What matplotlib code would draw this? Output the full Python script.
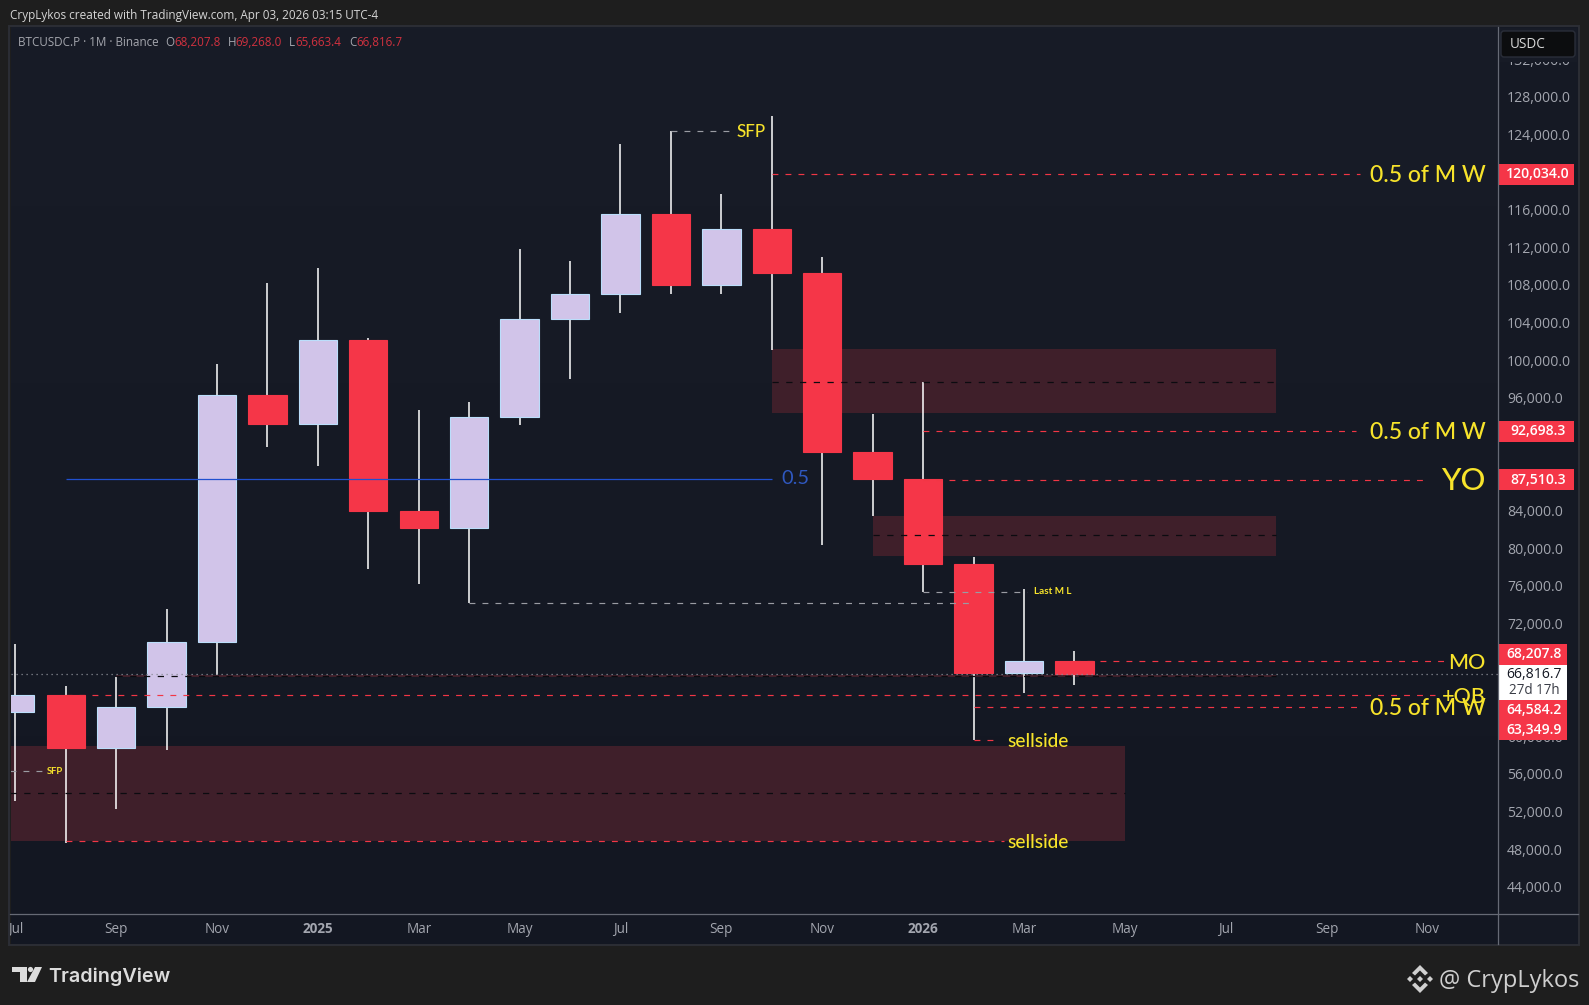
import numpy as np
import matplotlib
matplotlib.use("Agg")
import matplotlib.pyplot as plt
from matplotlib.patches import Rectangle, Polygon, Circle, FancyBboxPatch

# monthly candles, Jul 2024 -> Apr 2026 (prices in thousands)
opens = [62.8, 64.6, 59.0, 63.3, 70.2, 96.5, 93.4, 102.4, 84.2, 82.4, 94.2,
         104.6, 107.2, 115.7, 108.2, 114.1, 109.5, 90.4, 87.55, 78.5, 66.95, 68.2078]
highs = [70.0, 65.6, 66.5, 73.7, 99.8, 108.4, 110.0, 102.6, 94.9, 95.8, 112.0,
         110.7, 123.2, 124.6, 117.9, 126.2, 111.2, 94.5, 97.9, 79.3, 75.9, 69.268]
lows = [53.3, 48.9, 52.5, 58.8, 66.7, 91.0, 88.9, 78.0, 76.4, 74.4, 93.3,
        98.2, 105.2, 107.2, 107.2, 101.3, 80.5, 83.6, 75.55, 59.85, 64.8, 65.6634]
closes = [64.6, 59.0, 63.3, 70.2, 96.5, 93.4, 102.4, 84.2, 82.4, 94.2, 104.6,
          107.2, 115.7, 108.2, 114.1, 109.5, 90.4, 87.55, 78.5, 66.95, 68.2, 66.8167]

month_pos = [0, 2, 4, 6, 8, 10, 12, 14, 16, 18, 20, 22, 24, 26, 28]
month_labels = ["Jul", "Sep", "Nov", "2025", "Mar", "May", "Jul", "Sep", "Nov",
                "2026", "Mar", "May", "Jul", "Sep", "Nov"]
price_ticks = [44, 48, 52, 56, 60, 72, 76, 80, 84, 96, 100, 104, 108, 112, 116, 124, 128, 132]

# supply zones: x start, x end, top, bottom, mid
zone_x0 = [15, 17, -0.1, 2]
zone_x1 = [25, 25, 22, 25]
zone_top = [101.35, 83.66, 59.2, 66.68]
zone_bot = [94.56, 79.35, 49.1, 66.5]
zone_mid = [97.9, 81.6, 54.2, 66.6]

# red levels: price, start, end
red_price = [120.034, 92.6983, 87.5103, 68.2078, 64.5842, 63.3499, 59.85, 49.1]
red_x0 = [15, 18, 18, 21, 1, 19, 19, 1]
red_x1 = [26.66, 26.58, 28.03, 28.33, 28.15, 26.7, 19.5, 19.6]

gray_price = [124.6, 75.55, 74.41, 56.5]
gray_x0 = [13, 18, 9, -0.1]
gray_x1 = [14.17, 20.06, 18.91, 0.56]

right_notes = ["0.5 of M W", "0.5 of M W", "YO", "MO", "+QB", "0.5 of M W"]
right_note_price = [120.034, 92.6983, 87.5103, 68.2078, 64.5842, 63.3499]
right_note_px = [23, 23, 31, 21.5, 21.5, 23]

tag_labels = ["120,034.0", "92,698.3", "87,510.3"]
tag_prices = [120.034, 92.6983, 87.5103]

RED = "#f53648"
YELLOW = "#f7e32b"
AXIS_TXT = "#a3a6af"
DASH = (0, (5, 6))
NOTE_FONT = "Lato"
UI_FONT = "Open Sans"
W, H = 1589, 1005


def pt(px):
    return px * 0.72


fig = plt.figure(figsize=(W / 100, H / 100), dpi=100, facecolor="#1e1e1e")

# pane in pixel terms: x 10.5-1497.5, y 27.5-913.5
ax = fig.add_axes([10.5 / W, 1 - 913.5 / H, 1487 / W, 886 / H])
ax.set_facecolor("#131722")
grad = np.linspace(0, 1, 256).reshape(-1, 1)
c_top, c_bot = np.array([0x18, 0x1c, 0x27]), np.array([0x13, 0x17, 0x22])
img = (c_top + (c_bot - c_top) * grad[:, :, None]) / 255
ax.imshow(img, extent=(0, 1, 0, 1), transform=ax.transAxes, aspect="auto", zorder=0)

for x0, x1, t, b, m in zip(zone_x0, zone_x1, zone_top, zone_bot, zone_mid):
    ax.add_patch(Rectangle((x0, b), x1 - x0, t - b, fc="#3f1f2a", ec="none", zorder=1))

x = np.arange(len(opens))
ax.vlines(x, lows, highs, color="white", lw=1.1, zorder=3, snap=True)
for i in x:
    up = closes[i] >= opens[i]
    ax.bar(i, abs(closes[i] - opens[i]), bottom=min(opens[i], closes[i]), width=0.76,
           color="#d1c4e9" if up else RED, edgecolor="#bbdefb" if up else RED,
           linewidth=0.8, zorder=4)

for x0, x1, m in zip(zone_x0, zone_x1, zone_mid):
    ax.hlines(m, x0, x1, color="#0b0b10", lw=0.9, linestyle=DASH, zorder=5, snap=True)
for p, x0, x1 in zip(red_price, red_x0, red_x1):
    ax.hlines(p, x0, x1, color="#f23645", lw=0.85, linestyle=DASH, zorder=5, snap=True)
for p, x0, x1 in zip(gray_price, gray_x0, gray_x1):
    ax.hlines(p, x0, x1, color="#9a9ca3", lw=0.85, linestyle=DASH, zorder=5, snap=True)

ax.hlines(87.6, 1, 15, color="#2050d0", lw=0.9, zorder=5, snap=True)
ax.text(15.2, 87.6, "0.5", color="#2f58c0", fontsize=pt(20), family=NOTE_FONT, va="center", zorder=6)
ax.axhline(closes[-1], color="#8a8d96", lw=0.9, linestyle=(0, (1, 3)), zorder=5)

for txt, p, s in zip(right_notes, right_note_price, right_note_px):
    ax.text(29.16, p - 0.2, txt, color=YELLOW, fontsize=pt(s), family=NOTE_FONT, weight="medium",
            ha="right", va="center", zorder=6)
ax.text(14.31, 124.5, "SFP", color=YELLOW, fontsize=pt(17), family=NOTE_FONT, weight="medium", va="center", zorder=6)
ax.text(20.2, 75.55, "Last M L", color=YELLOW, fontsize=pt(10), family=NOTE_FONT, weight="bold", va="center", zorder=6)
ax.text(0.63, 56.45, "SFP", color=YELLOW, fontsize=pt(9.5), family=NOTE_FONT, weight="bold", va="center", zorder=6)
ax.text(19.68, 59.7, "sellside", color=YELLOW, fontsize=pt(19), family=NOTE_FONT, weight="medium", va="center", zorder=6)
ax.text(19.68, 48.95, "sellside", color=YELLOW, fontsize=pt(19), family=NOTE_FONT, weight="medium", va="center", zorder=6)

ax.set_xlim(-0.095, 29.39)
ax.set_ylim(41.36, 135.58)
ax.yaxis.tick_right()
ax.set_yticks(price_ticks)
ax.set_yticklabels([f"{v * 1000:,.1f}" for v in price_ticks], family=UI_FONT, fontsize=pt(14), color=AXIS_TXT, va="center")
ax.set_xticks(month_pos)
ax.set_xticklabels(month_labels, family=UI_FONT, fontsize=pt(13.5), color=AXIS_TXT)
for lab in ax.get_xticklabels():
    if lab.get_text().startswith("20"):
        lab.set_weight("bold")
ax.tick_params(axis="both", length=0)
ax.tick_params(axis="y", pad=6.8)
ax.tick_params(axis="x", pad=6)
for s in ax.spines.values():
    s.set_visible(False)

# overlay in pixel coordinates for the chrome round the pane
ov = fig.add_axes([0, 0, 1, 1], zorder=5)
ov.set_xlim(0, W)
ov.set_ylim(H, 0)
ov.axis("off")
fig.add_artist(Rectangle((10.5 / W, 1 - 944 / H), 1567.5 / W, 30.5 / H, fc="#131722", ec="none", zorder=-1))
fig.add_artist(Rectangle((1497.5 / W, 1 - 944 / H), 80.5 / W, 916.5 / H, fc="#151924", ec="none", zorder=-1))

ov.add_patch(Rectangle((0, 26), 9.5, 919, fc="#1e1e1e", ec="none"))
ov.add_patch(Rectangle((9, 26), 1570, 919, fc="none", ec="#2c2e35", lw=1.4))
ov.plot([1497.5, 1497.5], [27, 944], color="#666a75", lw=0.9)
ov.plot([10, 1578], [913.5, 913.5], color="#666a75", lw=0.9)

ov.text(10, 15, "CrypLykos created with TradingView.com, Apr 03, 2026 03:15 UTC-4",
        color="#d6d6d6", fontsize=pt(11.75), family=UI_FONT, va="center")
ov.text(18, 42, "BTCUSDC.P · 1M · Binance", color="#a4a6ad", fontsize=pt(11.6), family=UI_FONT, va="center")
for lx, vx, name, val in zip([165.7, 227.7, 289.3, 349], [174.3, 235.7, 295.7, 356.7], ["O", "H", "L", "C"],
                             ["68,207.8", "69,268.0", "65,663.4", "66,816.7"]):
    ov.text(lx, 42, name, color="#a4a6ad", fontsize=pt(11.6), family=UI_FONT, va="center")
    ov.text(vx, 42, val, color="#d0313f", fontsize=pt(11.6), family=UI_FONT, va="center")

# USDC button, with the strip of pane that hides the tick under it
ov.add_patch(Rectangle((1498.2, 28), 79, 33.5, fc="#171b26", ec="none"))
ov.add_patch(FancyBboxPatch((1503, 33), 70, 22, boxstyle="round,pad=2,rounding_size=3", fc="#0c0d0f", ec="#2a2e39", lw=1))
ov.text(1510, 44.5, "USDC", color="#d8d8d8", fontsize=pt(13.5), family=UI_FONT, va="center")


def price_y(p):
    return 99.1 + (128 - p) * 9.403


# price tags
for lab, p in zip(tag_labels, tag_prices):
    yy = price_y(p)
    ov.add_patch(Rectangle((1498, yy - 10.5), 76, 21, fc=RED, ec="none"))
    ov.text(1538, yy, lab, color="white", fontsize=pt(14), family=UI_FONT, weight="semibold", ha="center", va="center")

ov.add_patch(Rectangle((1498, 644), 69, 21, fc=RED, ec="none"))
ov.text(1534, 654, "68,207.8", color="white", fontsize=pt(14), family=UI_FONT, weight="semibold", ha="center", va="center")
ov.add_patch(Rectangle((1498, 664.5), 69, 35.5, fc="white", ec="none"))
ov.text(1534, 674, "66,816.7", color="#131722", fontsize=pt(14), family=UI_FONT, ha="center", va="center")
ov.text(1534, 690, "27d 17h", color="#3a3d46", fontsize=pt(13.5), family=UI_FONT, ha="center", va="center")
ov.add_patch(Rectangle((1498, 700), 69, 40, fc=RED, ec="none"))
ov.text(1534, 710, "64,584.2", color="white", fontsize=pt(14), family=UI_FONT, weight="semibold", ha="center", va="center")
ov.text(1534, 730, "63,349.9", color="white", fontsize=pt(14), family=UI_FONT, weight="semibold", ha="center", va="center")

# TradingView logo
LOGO = "#dcdcdc"
ov.add_patch(Polygon([(12, 967), (27, 967), (27, 982), (20, 982), (20, 972), (12, 972)], fc=LOGO, ec="none"))
ov.add_patch(Circle((30.5, 969.5), 2.6, fc=LOGO, ec="none"))
ov.add_patch(Polygon([(35, 967), (42, 967), (35, 982), (27, 982)], fc=LOGO, ec="none"))
ov.text(48.5, 977, "TradingView", color=LOGO, fontsize=pt(19.8), family="Inter", weight="semibold", va="center")

# Binance mark + handle
LOGO2 = "#d0d0d0"
cx, cy = 1420, 979
for dx, dy, r in [(0, 0, 3), (-10, 0, 3), (10, 0, 3)]:
    ov.add_patch(Polygon([(cx + dx - r, cy + dy), (cx + dx, cy + dy - r), (cx + dx + r, cy + dy), (cx + dx, cy + dy + r)], fc=LOGO2, ec="none"))
ov.add_patch(Polygon([(cx, cy - 14), (cx + 8, cy - 6), (cx + 5, cy - 3.5), (cx, cy - 8.5), (cx - 5, cy - 3.5), (cx - 8, cy - 6)], fc=LOGO2, ec="none"))
ov.add_patch(Polygon([(cx, cy + 14), (cx + 8, cy + 6), (cx + 5, cy + 3.5), (cx, cy + 8.5), (cx - 5, cy + 3.5), (cx - 8, cy + 6)], fc=LOGO2, ec="none"))
ov.text(1579, 981, "@ CrypLykos", color="#cfcfcf", fontsize=pt(23.6), family=UI_FONT, ha="right", va="center")

fig.savefig("out.png", dpi=100, facecolor=fig.get_facecolor())
